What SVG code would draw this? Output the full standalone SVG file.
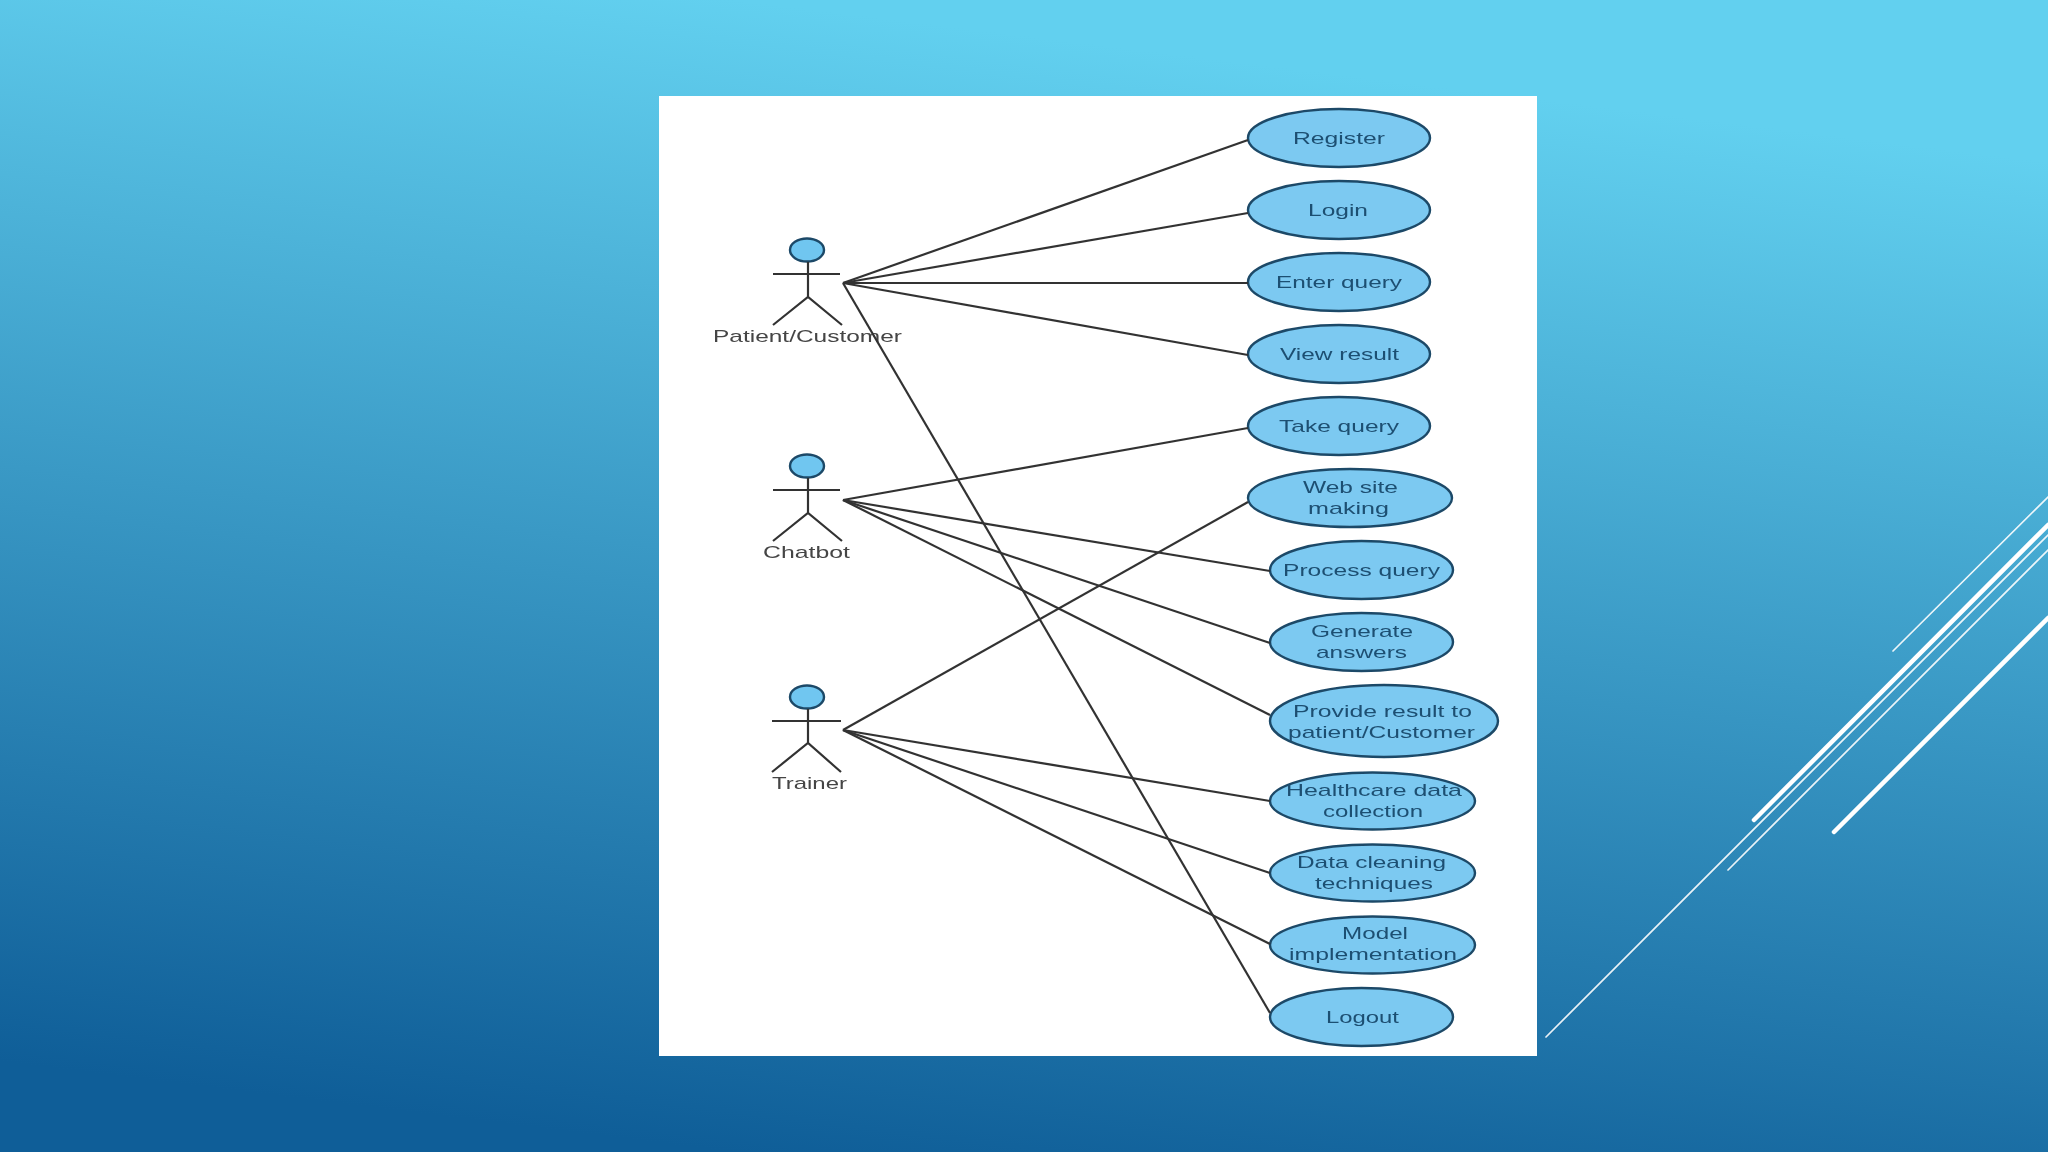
<svg xmlns="http://www.w3.org/2000/svg" width="2048" height="1152" viewBox="0 0 2048 1152">
<defs>
<linearGradient id="bg" gradientUnits="userSpaceOnUse" x1="1060" y1="40" x2="920" y2="1175">
<stop offset="0" stop-color="#62d0ef"/>
<stop offset="1" stop-color="#0f5e98"/>
</linearGradient>
<filter id="soft" x="-5%" y="-5%" width="110%" height="110%"><feGaussianBlur stdDeviation="0.7"/></filter>
</defs>
<style>
.uc{fill:#7bc9f1;stroke:#1f4a68;stroke-width:2.4}
.head{fill:#6fc6f0;stroke:#1f4a68;stroke-width:2.4}
.st{fill:none;stroke:#333;stroke-width:2.2}
.con line{stroke:#333;stroke-width:2.2}
text{font-family:"Liberation Sans",Arial,sans-serif;font-size:17px}
.t{fill:#1f4f72}
.a{fill:#454545}
.deco line{stroke:#fff;stroke-linecap:round}
.thin{stroke-width:1.7;opacity:.9}
.thick{stroke-width:4.5}
</style>
<rect width="2048" height="1152" fill="url(#bg)"/>
<g class="deco" id="decor">
<line class="thin" x1="1546" y1="1037" x2="2048" y2="535"/>
<line class="thin" x1="1728" y1="870" x2="2048" y2="550"/>
<line class="thin" x1="1893" y1="651" x2="2048" y2="497"/>
<line class="thick" x1="1754" y1="820" x2="2048" y2="525"/>
<line class="thick" x1="1834" y1="832" x2="2048" y2="618"/>
</g>
<rect x="659" y="96" width="878" height="960" fill="#fff"/>
<g filter="url(#soft)">
<g id="actor-patient">
<ellipse class="head" cx="807" cy="250" rx="17" ry="11.5"/>
<path class="st" d="M773 274H840M808 262V297M773 325L808 297L842 325"/>
<text class="a" x="713" y="342" textLength="189" lengthAdjust="spacingAndGlyphs">Patient/Customer</text>
</g>
<g id="actor-chatbot">
<ellipse class="head" cx="807" cy="466" rx="17" ry="11.5"/>
<path class="st" d="M773 490H840M808 478V513M773 541L808 513L842 541"/>
<text class="a" x="763" y="558" textLength="87" lengthAdjust="spacingAndGlyphs">Chatbot</text>
</g>
<g id="actor-trainer">
<ellipse class="head" cx="807" cy="697" rx="17" ry="11.5"/>
<path class="st" d="M772 721H841M808 709V743M772 772L808 743L841 772"/>
<text class="a" x="772" y="789" textLength="75" lengthAdjust="spacingAndGlyphs">Trainer</text>
</g>
<g id="uc-register"><ellipse class="uc" cx="1339" cy="138" rx="91" ry="29"/><text class="t" x="1293" y="144" textLength="92" lengthAdjust="spacingAndGlyphs">Register</text></g>
<g id="uc-login"><ellipse class="uc" cx="1339" cy="210" rx="91" ry="29"/><text class="t" x="1308" y="216" textLength="60" lengthAdjust="spacingAndGlyphs">Login</text></g>
<g id="uc-enter"><ellipse class="uc" cx="1339" cy="282" rx="91" ry="29"/><text class="t" x="1276" y="288" textLength="126" lengthAdjust="spacingAndGlyphs">Enter query</text></g>
<g id="uc-view"><ellipse class="uc" cx="1339" cy="354" rx="91" ry="29"/><text class="t" x="1280" y="360" textLength="119" lengthAdjust="spacingAndGlyphs">View result</text></g>
<g id="uc-take"><ellipse class="uc" cx="1339" cy="426" rx="91" ry="29"/><text class="t" x="1279" y="432" textLength="120" lengthAdjust="spacingAndGlyphs">Take query</text></g>
<g id="uc-web"><ellipse class="uc" cx="1350" cy="498" rx="102" ry="29"/><text class="t" x="1303" y="493" textLength="95" lengthAdjust="spacingAndGlyphs">Web site</text><text class="t" x="1308" y="514" textLength="81" lengthAdjust="spacingAndGlyphs">making</text></g>
<g id="uc-process"><ellipse class="uc" cx="1361.500" cy="570" rx="91.500" ry="29"/><text class="t" x="1283" y="576" textLength="157" lengthAdjust="spacingAndGlyphs">Process query</text></g>
<g id="uc-generate"><ellipse class="uc" cx="1361.500" cy="642" rx="91.500" ry="29"/><text class="t" x="1311" y="637" textLength="102" lengthAdjust="spacingAndGlyphs">Generate</text><text class="t" x="1316" y="658" textLength="91" lengthAdjust="spacingAndGlyphs">answers</text></g>
<g id="uc-provide"><ellipse class="uc" cx="1384" cy="721" rx="114" ry="36"/><text class="t" x="1293" y="717" textLength="179" lengthAdjust="spacingAndGlyphs">Provide result to</text><text class="t" x="1288" y="738" textLength="187" lengthAdjust="spacingAndGlyphs">patient/Customer</text></g>
<g id="uc-healthcare"><ellipse class="uc" cx="1372.500" cy="801" rx="102.500" ry="28.500"/><text class="t" x="1286" y="796" textLength="176" lengthAdjust="spacingAndGlyphs">Healthcare data</text><text class="t" x="1323" y="817" textLength="100" lengthAdjust="spacingAndGlyphs">collection</text></g>
<g id="uc-data"><ellipse class="uc" cx="1372.500" cy="873" rx="102.500" ry="28.500"/><text class="t" x="1297" y="868" textLength="149" lengthAdjust="spacingAndGlyphs">Data cleaning</text><text class="t" x="1315" y="889" textLength="118" lengthAdjust="spacingAndGlyphs">techniques</text></g>
<g id="uc-model"><ellipse class="uc" cx="1372.500" cy="945" rx="102.500" ry="28.500"/><text class="t" x="1342" y="939" textLength="66" lengthAdjust="spacingAndGlyphs">Model</text><text class="t" x="1289" y="960" textLength="168" lengthAdjust="spacingAndGlyphs">implementation</text></g>
<g id="uc-logout"><ellipse class="uc" cx="1361.500" cy="1017" rx="91.500" ry="29"/><text class="t" x="1326" y="1023" textLength="73" lengthAdjust="spacingAndGlyphs">Logout</text></g>
<g id="connectors" class="con">
<line x1="843" y1="283" x2="1248" y2="140"/>
<line x1="843" y1="283" x2="1248" y2="213"/>
<line x1="843" y1="283" x2="1248" y2="283"/>
<line x1="843" y1="283" x2="1248" y2="355"/>
<line x1="843" y1="283" x2="1270" y2="1013"/>
<line x1="843" y1="500" x2="1248" y2="428"/>
<line x1="843" y1="500" x2="1270" y2="571"/>
<line x1="843" y1="500" x2="1270" y2="643"/>
<line x1="843" y1="500" x2="1270" y2="715"/>
<line x1="843" y1="730" x2="1248" y2="502"/>
<line x1="843" y1="730" x2="1270" y2="801"/>
<line x1="843" y1="730" x2="1270" y2="873"/>
<line x1="843" y1="730" x2="1270" y2="944"/>
</g>
</g>
</svg>
